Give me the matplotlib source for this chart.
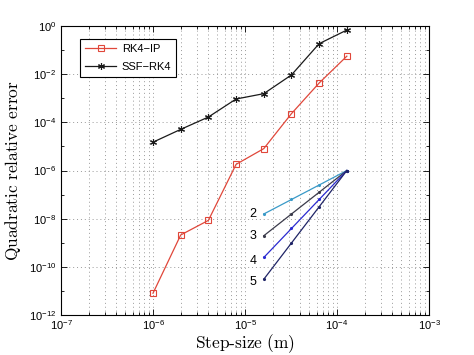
#!/usr/bin/env python3
"""Convergence of RK4-IP vs SSF-RK4: error against step size."""

import numpy as np
import matplotlib
matplotlib.use('Agg')
import matplotlib.pyplot as plt
from matplotlib.ticker import LogLocator, NullFormatter

step = [1e-6, 2e-6, 4e-6, 8e-6, 1.6e-5, 3.2e-5, 6.4e-5, 1.28e-4]
err_rk4ip = [8e-12, 2.1e-9, 8.5e-9, 1.8e-6, 8.1e-6, 2.3e-4, 4.3e-3, 5.6e-2]
err_ssf = [1.5e-5, 5.1e-5, 1.66e-4, 9.3e-4, 1.55e-3, 9.3e-3, 0.185, 0.68]

# reference slopes, anchored at the last step size
slope_x = [1.6e-5, 3.2e-5, 6.4e-5, 1.28e-4]
slope_anchor = 1e-6
slope_orders = [2, 3, 4, 5]
slope_colors = ['#3a9ac8', '#3a3a4a', '#2a2ad0', '#1f2466']

tick_font = 'Liberation Sans'


def main():
    plt.rcParams['mathtext.fontset'] = 'cm'
    fig = plt.figure(figsize=(4.74, 3.55), dpi=100)
    ax = fig.add_axes([61 / 474, 1 - 315 / 355, 368 / 474, 289 / 355])

    ax.plot(step, err_rk4ip, '-s', color='#e0473a', lw=0.9, ms=5,
            mfc='none', mec='#e0473a', mew=0.8, label='RK4\u2212IP')
    ax.plot(step, err_ssf, '-', color='#1a1a1a', lw=0.9, marker=(6, 2, 0),
            ms=5, mew=0.8, label='SSF\u2212RK4')

    xs = np.array(slope_x)
    for n, c in zip(slope_orders, slope_colors):
        ys = slope_anchor * (xs / xs[-1]) ** n
        ax.plot(xs, ys, '-', color=c, lw=0.9, marker='.', ms=2.5)
        ax.text(xs[0] / 1.2, ys[0] * (1.0 if n < 4 else 0.75), str(n),
                ha='right', va='center', fontsize=9, family=tick_font)

    ax.set_xscale('log')
    ax.set_yscale('log')
    ax.set_xlim(1e-7, 1e-3)
    ax.set_ylim(1e-12, 1e0)
    ax.set_yticks([10.0 ** k for k in range(-12, 1, 2)])
    ax.xaxis.set_minor_locator(LogLocator(base=10, subs=np.arange(2, 10)))
    ax.yaxis.set_minor_locator(LogLocator(base=10, subs=[1.0], numticks=20))
    ax.xaxis.set_minor_formatter(NullFormatter())
    ax.yaxis.set_minor_formatter(NullFormatter())

    grid_kw = dict(color='#999999', lw=0.7, ls=(0, (1, 3)))
    ax.grid(True, which='major', axis='both', **grid_kw)
    ax.grid(True, which='minor', axis='x', **grid_kw)
    ax.tick_params(which='both', direction='in', top=True, right=True,
                   labelsize=8, width=0.6)
    ax.tick_params(which='major', length=4)
    ax.tick_params(which='minor', length=2)
    ax.tick_params(axis='x', pad=2.5)
    for lbl in ax.get_xticklabels() + ax.get_yticklabels():
        lbl.set_family(tick_font)
    for sp in ax.spines.values():
        sp.set_linewidth(0.8)

    ax.set_xlabel(r'$\mathrm{Step\text{-}size\ (m)}$', fontsize=12.5,
                  labelpad=0)
    ax.set_ylabel(r'$\mathrm{Quadratic\ relative\ error}$', fontsize=12.5,
                  labelpad=4)

    leg = ax.legend(loc='upper left', bbox_to_anchor=(0.052, 0.955),
                    borderaxespad=0,
                    prop={'family': tick_font, 'size': 8}, fancybox=False,
                    edgecolor='black', framealpha=1, handlelength=2.8,
                    borderpad=0.45, labelspacing=0.75, handletextpad=0.5)
    leg.get_frame().set_linewidth(0.8)

    fig.savefig('out.png', dpi=100)


if __name__ == '__main__':
    main()
